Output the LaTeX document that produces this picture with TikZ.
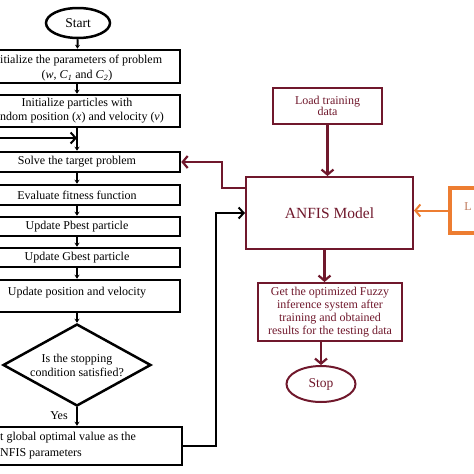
\documentclass[tikz,border=0pt]{standalone}
\usepackage{fontspec}
\setmainfont{Liberation Serif}
\usetikzlibrary{shapes.geometric,arrows.meta}
\definecolor{maroon}{RGB}{112,24,44}
\definecolor{orng}{RGB}{237,125,49}
\definecolor{ltext}{RGB}{190,120,90}
\begin{document}
\begin{tikzpicture}[x=1pt,y=-1pt,
  fnt/.style={font=\fontsize{12}{14}\selectfont},
  box/.style={draw=black,line width=2.5pt,rectangle,minimum width=206pt,inner sep=0pt,fnt},
  txt/.style={inner sep=0pt,fnt},
  arr/.style={black,line width=2pt,-{Stealth[length=4pt,width=5pt]}},
  barr/.style={black,line width=2pt,-{Straight Barb[length=5pt,width=11pt,line width=2pt]}},
  mbox/.style={draw=maroon,line width=2pt,rectangle,inner sep=0pt,text=maroon,align=center},
  marr/.style={maroon,line width=2.2pt,-{Straight Barb[length=5pt,width=12pt,line width=2.2pt]}},
]
\useasboundingbox (0,0) rectangle (474,474);
\fill[white] (0,0) rectangle (474,474);

% left column
\node[draw,line width=2.5pt,ellipse,minimum width=64pt,minimum height=30pt,inner sep=0pt,font=\fontsize{13.5}{15}\selectfont] (start) at (78,23) {Start};
\node[box,minimum height=33pt] (b1) at (77,66.5) {};
\node[txt,anchor=west] (b1t1) at (0,61) {itialize the parameters of problem};
\node[txt] (b1t2) at (77,75.5) {(\textit{w}, \textit{C}\textsubscript{\textit{1}} and \textit{C}\textsubscript{\textit{2}})};
\node[box,minimum height=32pt] (b2) at (77,111) {};
\node[txt] (b2t1) at (77,104) {Initialize particles with};
\node[txt,anchor=west] (b2t2) at (0,118) {ndom position (\textit{x}) and velocity (\textit{v})};
\node[box,minimum height=20pt] (b3) at (77,162) {Solve the target problem};
\node[box,minimum height=20pt] (b4) at (77,195) {Evaluate fitness function};
\node[box,minimum height=19pt] (b5) at (77,226.5) {Update Pbest particle};
\node[box,minimum height=19pt] (b6) at (77,257.5) {Update Gbest particle};
\node[box,minimum height=32pt] (b7) at (77,296) {};
\node[txt] (b7t) at (77,293) {Update position and velocity};
\node[draw,line width=2.5pt,diamond,aspect=1.8,minimum width=148pt,minimum height=82pt,inner sep=0pt,align=center,fnt] (dec) at (77,365) {Is the stopping\\condition satisfied?};
\node[box,minimum width=210pt,minimum height=38pt] (last) at (77,446) {};
\node[txt,anchor=west,align=left,font=\fontsize{12}{16}\selectfont] (lastt) at (0,446) {t global optimal value as the\\NFIS parameters};

\coordinate (loopin) at (0,138);
\draw[arr] (start) -- (b1);
\draw[arr] (b1) -- (b2);
\draw[arr] (b2) -- (b3);
\draw[arr] (b3) -- (b4);
\draw[arr] (b4) -- (b5);
\draw[arr] (b5) -- (b6);
\draw[arr] (b6) -- (b7);
\draw[arr] (b7) -- (dec);
\draw[arr] (dec) -- (last);
\node[txt] (yes) at (59,416) {Yes};
\draw[barr] (loopin) -- (loopin -| b2.south);

% right column
\node[mbox,minimum width=109pt,minimum height=36pt,font=\fontsize{12}{11.5}\selectfont] (load) at (327.5,106) {Load training\\data};
\node[mbox,minimum width=167pt,minimum height=72pt,font=\fontsize{15.5}{18}\selectfont] (anfis) at (329.5,213) {ANFIS Model};
\node[draw=orng,line width=4pt,rectangle,minimum width=60pt,minimum height=45pt,inner sep=0pt] (lbox) at (480,210.5) {};
\node[txt,text=ltext] (lt) at (468,207) {L};
\node[mbox,minimum width=144pt,minimum height=58pt,font=\fontsize{12}{13}\selectfont] (get) at (330,312) {Get the optimized Fuzzy\\inference system after\\training and obtained\\results for the testing data};
\node[draw=maroon,line width=2pt,ellipse,minimum width=69pt,minimum height=36pt,inner sep=0pt,text=maroon,font=\fontsize{13.5}{15}\selectfont] (stop) at (321,384) {Stop};

\draw[marr] (load.south) -- (load.south |- anfis.north);
\draw[marr] ([yshift=25pt]anfis.west) -- ++(-23,0) |- (b3.east);
\draw[barr] (last.east) -- ++(33,0) |- (anfis.west);
\draw[orng,line width=2pt,-{Straight Barb[length=5pt,width=12pt,line width=2pt]}] (lbox.west) -- (lbox.west -| anfis.east);
\draw[marr] ([xshift=-5pt]anfis.south) -- ([xshift=-5pt]anfis.south |- get.north);
\draw[marr] (stop.north |- get.south) -- (stop.north);
\end{tikzpicture}
\end{document}
